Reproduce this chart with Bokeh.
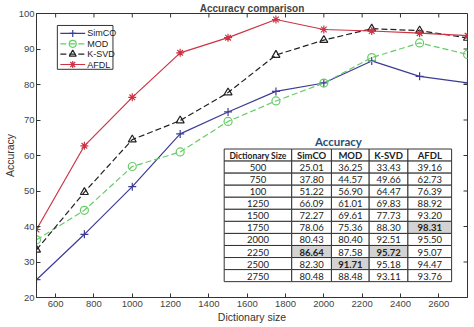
from bokeh.plotting import figure
from bokeh.models import Range1d, FixedTicker, ColumnDataSource
from bokeh.core.properties import value
from bokeh.embed import file_html
from bokeh.resources import INLINE

sizes = [500, 750, 1000, 1250, 1500, 1750, 2000, 2250, 2500, 2750]
simco = [25.01, 37.80, 51.22, 66.09, 72.27, 78.06, 80.43, 86.64, 82.30, 80.48]
mod = [36.25, 44.57, 56.90, 61.01, 69.61, 75.36, 80.40, 87.58, 91.71, 88.48]
ksvd = [33.43, 49.66, 64.47, 69.83, 77.73, 88.30, 92.51, 95.72, 95.18, 93.11]
afdl = [39.16, 62.73, 76.39, 88.92, 93.20, 98.31, 95.50, 95.07, 94.47, 93.76]

table_header = ["Dictionary Size", "SimCO", "MOD", "K-SVD", "AFDL"]
table_rows = ["500", "750", "100", "1250", "1500", "1750", "2000", "2250", "2500", "2750"]
highlight = [(5, 4), (7, 1), (7, 3), (8, 2)]  # (row, column) of bold gray cells

x_ticks = [600, 800, 1000, 1200, 1400, 1600, 1800, 2000, 2200, 2400, 2600]
y_ticks = [20, 30, 40, 50, 60, 70, 80, 90, 100]

FONT = "Liberation Sans"
TFONT = "Lato"

# page-pixel frame used for overlay items
FL, FR, FT, FB = 33, 467, 12, 297

p = figure(width=474, height=327, output_backend="svg", toolbar_location=None,
           x_range=Range1d(500, 2750), y_range=Range1d(20, 100),
           min_border_left=FL, min_border_right=474 - FR, min_border_top=0,
           min_border_bottom=327 - FB)
p.title.text = "Accuracy comparison"
p.title.text_font = FONT
p.title.text_font_size = "10px"
p.title.text_font_style = "bold"
p.title.align = "center"
p.title.standoff = 0
p.title.offset = 0
p.grid.visible = False
p.outline_line_color = "#333333"
p.background_fill_color = "white"
p.border_fill_color = "white"

for ax in (p.xaxis[0], p.yaxis[0]):
    ax.major_tick_in = 4
    ax.major_tick_out = 0
    ax.minor_tick_line_color = None
    ax.axis_line_color = "#333333"
    ax.major_tick_line_color = "#333333"
    ax.major_label_text_font = FONT
    ax.major_label_text_font_size = "9.5px"
    ax.major_label_text_color = "#444444"
    ax.axis_label_text_font = FONT
    ax.axis_label_text_font_size = "10.5px"
    ax.axis_label_text_font_style = "normal"
    ax.axis_label_text_color = "#333333"
    ax.major_label_standoff = 3
    ax.axis_label_standoff = 1
p.yaxis[0].major_label_standoff = 2
p.yaxis[0].axis_label_standoff = 0
p.xaxis[0].ticker = FixedTicker(ticks=x_ticks)
p.yaxis[0].ticker = FixedTicker(ticks=y_ticks)
p.xaxis[0].axis_label = "Dictionary size"
p.yaxis[0].axis_label = "Accuracy"

p.extra_x_ranges = {"px": Range1d(FL, FR)}
p.extra_y_ranges = {"py": Range1d(FB, FT)}

# mirrored ticks on top and right edges
p.segment(x0=x_ticks, x1=x_ticks, y0=[FT] * len(x_ticks), y1=[FT + 4] * len(x_ticks),
          line_color="#333333", y_range_name="py")
p.segment(x0=[FR] * len(y_ticks), x1=[FR - 4] * len(y_ticks), y0=y_ticks, y1=y_ticks,
          line_color="#333333", x_range_name="px")

series = [
    ("SimCO", simco, "#3C3C96", "solid", "cross"),
    ("MOD", mod, "#66CC66", "6 3", "circle"),
    ("K-SVD", ksvd, "#222222", "6 3", "triangle"),
    ("AFDL", afdl, "#CC3344", "solid", "asterisk"),
]
for name, ys, col, dash, marker in series:
    src = ColumnDataSource(dict(x=sizes, y=ys))
    p.line("x", "y", source=src, line_color=col, line_width=1.2, line_dash=dash)
    p.scatter("x", "y", source=src, marker=marker, size=8, line_color=col,
              fill_color=None, line_width=1.2)

# legend box (drawn in page-pixel coordinates)
LG_L, LG_R, LG_T, LG_B = 54, 110, 24, 68
p.quad(left=[LG_L], right=[LG_R], top=[LG_T], bottom=[LG_B], fill_color="white",
       line_color="#333333", line_width=1, x_range_name="px", y_range_name="py")
for i, (name, ys, col, dash, marker) in enumerate(series):
    yy = 32 + i * 10.4
    p.line(x=[57, 82], y=[yy, yy], line_color=col, line_width=1.2, line_dash=dash,
           x_range_name="px", y_range_name="py")
    p.scatter(x=[69.5], y=[yy], marker=marker, size=7, line_color=col, fill_color=None,
              line_width=1.2, x_range_name="px", y_range_name="py")
    p.text(x=[84], y=[yy], text=[name], text_align="left", text_baseline="middle",
           text_font=value(FONT), text_font_size="9px", text_color="#222222",
           x_range_name="px", y_range_name="py")

# table overlay in page-pixel coordinates
col_edges = [222, 290, 330, 368, 407, 451]
row_top = 148.0
row_h = 12.1
n_rows = len(table_rows) + 1

left, right, top, bottom, fill = [], [], [], [], []
tx, ty, tt, tw, ts = [], [], [], [], []
for r in range(n_rows):
    for c in range(5):
        left.append(col_edges[c]); right.append(col_edges[c + 1])
        t = row_top + r * row_h
        top.append(t); bottom.append(t + row_h)
        hl = r > 0 and (r - 1, c) in highlight
        fill.append("#D3D3D3" if hl else "white")
        tx.append((col_edges[c] + col_edges[c + 1]) / 2)
        ty.append(t + row_h / 2 + 0.5)
        if r == 0:
            tt.append(table_header[c]); tw.append("bold")
            ts.append("8.5px" if c == 0 else "9.5px")
        else:
            if c == 0:
                tt.append(table_rows[r - 1])
            else:
                tt.append("%.2f" % [simco, mod, ksvd, afdl][c - 1][r - 1])
            tw.append("bold" if hl else "normal")
            ts.append("9.5px")

p.quad(left=left, right=right, top=top, bottom=bottom, fill_color=fill,
       line_color="#333333", line_width=1, x_range_name="px", y_range_name="py")
p.text(x=tx, y=ty, text=tt, text_font_style=tw, text_font_size=ts, text_align="center",
       text_baseline="middle", text_font=value(TFONT), text_color="#222222",
       x_range_name="px", y_range_name="py")
p.text(x=[337], y=[140], text=["Accuracy"], text_align="center", text_baseline="middle",
       text_font=value(TFONT), text_font_size="11.5px", text_font_style="bold", text_color="#1F4E79",
       x_range_name="px", y_range_name="py")

open("out.html", "w").write(file_html(p, INLINE))
